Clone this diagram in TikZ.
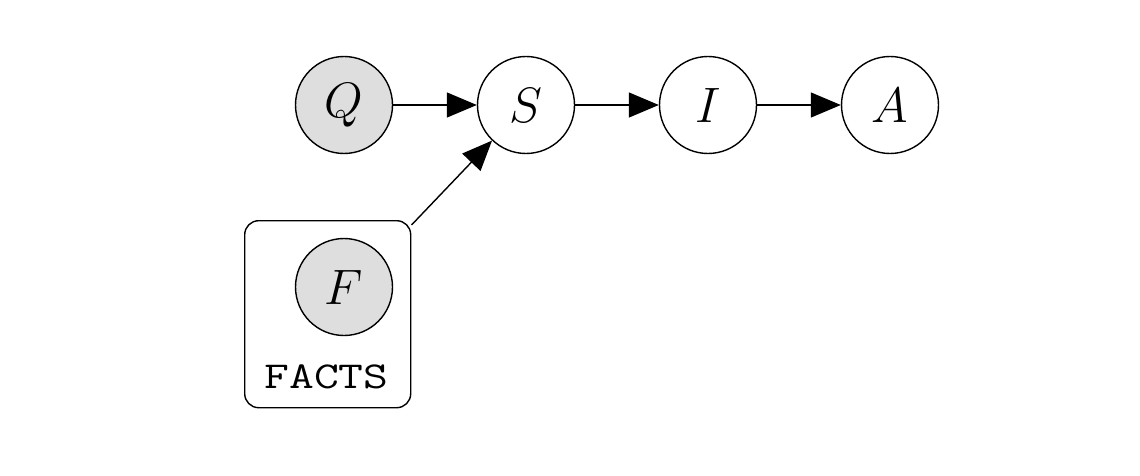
\documentclass[tikz,border=0pt]{standalone}
\usepackage{fontspec}
\newfontfamily\factsfont{Latin Modern Mono}[FakeStretch=1.27]
\usetikzlibrary{arrows.meta}
\begin{document}
\begin{tikzpicture}[x=0.5pt,y=-0.5pt,
  var/.style={circle,draw,line width=0.7pt,minimum size=48.5pt,inner sep=0pt,font=\fontsize{24}{28}\selectfont},
  obs/.style={var,fill=black!13},
  conn/.style={line width=0.7pt,-{Triangle[length=15pt,width=12.5pt]}},
  platebox/.style={draw,line width=0.7pt,rounded corners=7pt}]
\useasboundingbox (0,0) rectangle (1140,476);
\node[obs] (Q) at (344,105) {$Q$};
\node[var] (S) at (526,105) {$S$};
\node[var] (I) at (708,105) {$I$};
\node[var] (A) at (890,105) {$A$};
\node[obs] (F) at (344,287) {$F$};
\node[platebox,minimum width=83pt,minimum height=93.5pt] (plate) at (327.7,314.2) {};
\node[font=\factsfont\fontsize{19}{22}\selectfont,anchor=base,inner sep=0pt] (lbl) at (326.5,388) {FACTS};
\coordinate (pc) at (411.5,225);
\draw[conn] (Q) -- (S);
\draw[conn] (S) -- (I);
\draw[conn] (I) -- (A);
\draw[conn] (pc) -- (S);
\end{tikzpicture}
\end{document}
